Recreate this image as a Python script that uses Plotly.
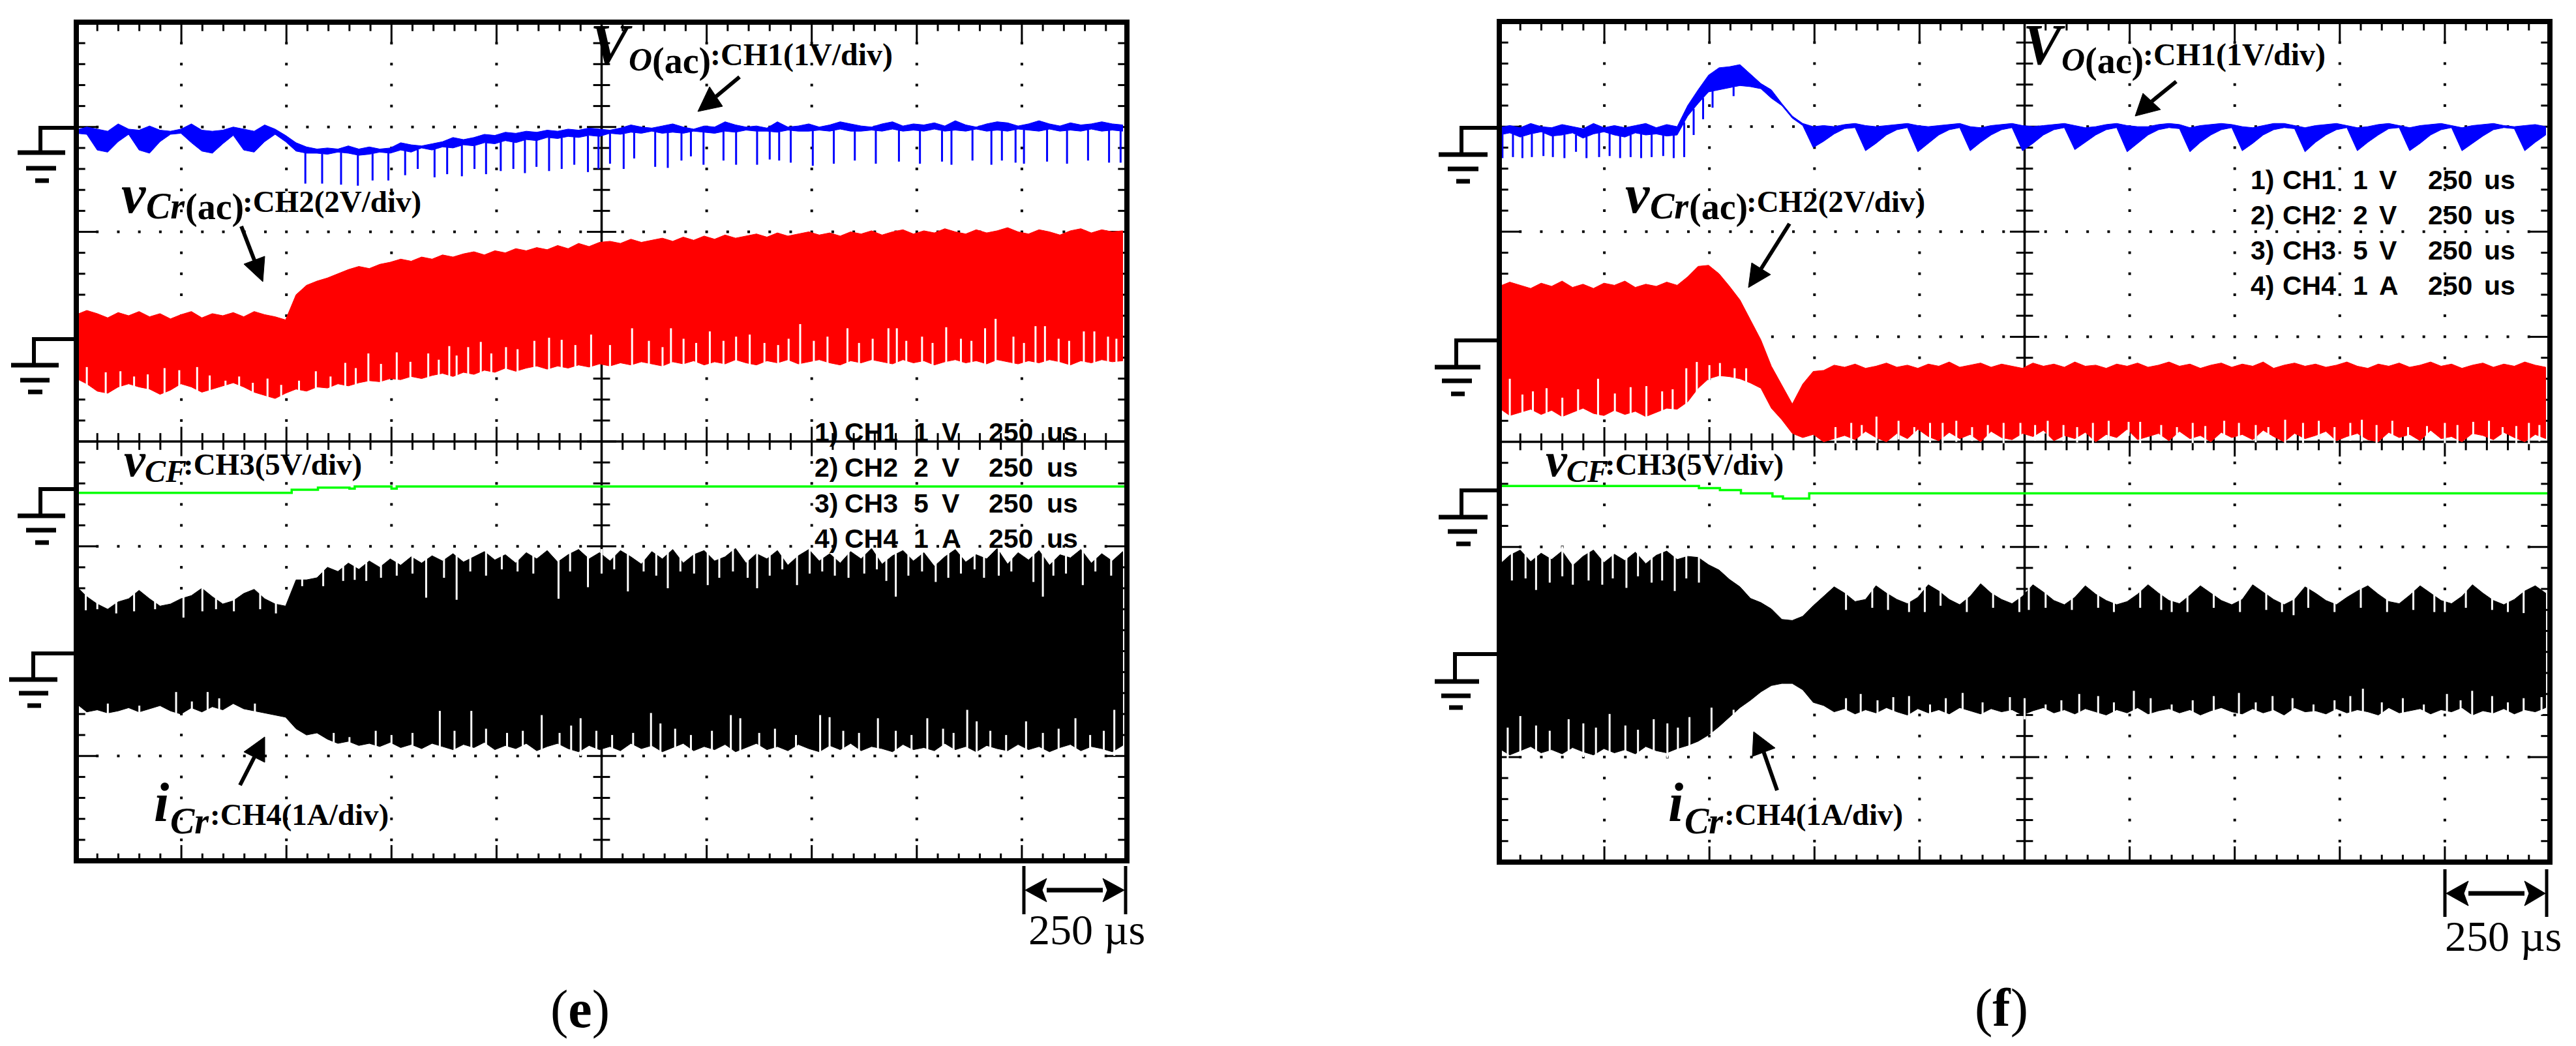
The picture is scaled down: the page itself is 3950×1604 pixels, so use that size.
import numpy as np
import plotly.graph_objects as go

W, H = 3950, 1604
# Values below: hundredths of a screen division, measured up from the bottom of the screen.
# Each edge list is read every 0.1 div across the 10-div screen.
e_blue_top = [697,700,698,696,703,698,697,701,697,696,698,703,697,696,697,700,698,696,702,698,692,
 685,681,679,680,679,682,679,681,679,680,685,683,682,684,686,690,688,690,693,692,695,694,696,695,697,
 696,698,697,699,698,697,
 699,702,700,699,701,703,700,698,701,700,705,702,700,701,699,705,700,701,703,700,702,705,703,701,700,703,705,701,703,702,704,701,706,702,700,703,705,704,701,703,706,703,701,704,702,703,705,703,702]
e_blue_bot = [694,693,678,676,686,693,678,675,686,693,694,685,677,675,684,692,678,676,686,693,686,
 677,675,675,674,676,675,673,674,676,675,678,676,680,678,681,680,683,682,685,684,687,685,688,687,690,
 689,691,690,692,691,694,
 693,695,694,696,694,695,694,696,695,694,696,695,697,696,696,695,697,696,696,697,696,698,696,696,697,696,698,696,697,696,698,696,697,696,698,696,697,696,698,697,696,698,696,697,696,698,696,697,696]
e_blue_spike_x = [2.18,2.34,2.52,2.68,2.82,2.97,3.13,3.25,3.41,3.53,3.67,3.79,3.90,4.04,4.16,4.27,4.38,4.50,4.62,4.74,4.87,4.97,5.08,5.21,5.31,5.51,5.63,5.76,5.85,5.97,6.16,6.28,6.48,6.60,6.69,6.80,7.01,7.21,7.41,7.61,7.83,8.03,8.24,8.33,8.53,8.71,8.81,8.94,9.02,9.24,9.43,9.63,9.83,9.94]
e_blue_spike_y = [646,646,645,644,649,649,654,660,652,655,653,660,655,658,660,656,662,658,660,664,657,660,665,660,670,662,661,668,672,664,668,664,664,669,668,666,663,665,668,665,667,665,667,664,668,664,668,666,665,667,665,668,666,666]

e_red_top = [521,525,522,518,523,520,524,519,522,517,521,524,518,522,520,523,519,524,521,519,516,
 540,549,553,556,560,564,567,565,569,571,574,572,576,574,578,576,579,581,578,582,580,584,582,585,583,587,584,589,586,590,
 591,589,593,590,592,594,591,595,592,596,593,597,594,596,598,595,599,596,598,600,597,599,596,600,598,601,597,600,602,598,601,599,603,600,598,602,599,601,604,600,598,602,600,597,601,603,599,602,600,601]
e_red_bot = [460,455,448,446,452,455,452,450,445,449,455,452,447,450,453,456,452,447,444,441,446,
 450,448,452,451,455,453,456,458,457,460,459,462,460,463,465,462,466,464,468,466,470,467,470,472,469,472,470,473,471,474,
 472,475,473,476,474,472,476,474,477,473,476,474,478,475,473,477,475,478,474,476,478,475,473,477,475,478,476,474,478,475,477,473,476,478,475,477,474,478,476,474,477,475,478,476,473,477,475,478,476,477]
e_red_spike_x = [0.10,0.42,0.84,1.15,1.27,2.28,2.56,2.78,3.05,3.35,3.55,3.73,3.85,4.09,4.36,4.50,4.62,4.90,5.29,5.66,6.03,6.41,6.89,7.34,7.73,7.81,8.28,8.65,8.75,9.13,9.22,9.59,9.69,
 0.28,0.55,0.68,0.98,1.42,1.55,1.68,1.82,1.95,2.12,2.42,2.66,2.9,3.18,3.45,3.62,3.95,4.2,4.75,5.08,5.45,5.58,5.78,5.9,6.16,6.28,6.55,6.68,6.78,7.02,7.15,7.45,7.58,7.9,8.05,8.15,8.42,8.52,8.92,9.02,9.35,9.45,9.82,9.9]
e_red_spike_y = [471,467,470,471,463,467,475,484,485,484,491,490,495,490,496,499,497,502,508,508,505,502,512,508,508,508,509,508,517,510,510,505,505,
 466,462,464,468,458,462,456,460,454,458,462,470,474,476,478,482,484,488,492,492,496,490,498,494,496,500,494,492,498,496,500,494,498,496,500,494,498,496,500,494,498,496,500,498]

e_black_top = [262,252,245,240,247,250,258,250,243,245,250,253,260,252,245,248,255,259,250,245,243,
 268,268,270,280,276,284,278,286,280,288,282,290,284,291,286,293,285,290,295,287,292,284,294,288,296,285,292,297,288,294,
 286,296,290,283,295,288,297,284,292,296,286,290,298,284,293,288,296,282,291,297,286,293,284,295,288,298,283,291,296,286,294,281,290,297,285,292,288,298,283,294,287,296,282,292,289,297,284,293,286,295]
e_black_bot = [150,142,144,141,143,146,142,145,148,143,140,146,142,147,144,150,145,143,141,139,137,
 126,120,122,116,112,114,110,112,109,113,108,111,107,112,109,106,111,108,113,106,110,107,112,105,109,112,107,104,110,106,
 109,105,112,107,110,104,108,112,105,109,106,111,104,108,112,106,109,105,111,107,104,110,106,112,105,109,107,104,111,106,108,105,112,106,109,104,110,107,105,111,106,109,104,108,111,105,109,107,104,110]
e_black_top_spike_x = [0.09,0.38,1.02,1.33,1.75,2.54,2.76,3.33,3.62,4.59,4.87,5.25,5.63,6.01,6.39,6.48,6.86,7.22,7.71,7.80,8.18,8.64,9.11,9.20,9.58,
 0.2,0.55,0.75,1.2,1.5,1.9,2.15,2.35,2.65,2.9,3.05,3.2,3.5,3.75,3.9,4.05,4.2,4.35,4.7,5.0,5.12,5.4,5.52,5.75,5.88,6.12,6.25,6.6,6.72,6.98,7.1,7.35,7.5,7.62,7.92,8.05,8.3,8.42,8.55,8.78,8.9,9.3,9.42,9.7,9.85]
e_black_top_spike_y = [239,236,232,240,240,267,267,251,249,250,261,257,260,263,270,260,263,272,267,252,266,270,266,252,263,
 240,238,240,238,238,236,262,262,268,270,272,274,270,276,272,278,276,274,276,274,278,276,272,276,274,270,276,272,278,274,276,270,274,278,272,276,270,274,278,272,276,272,274,276,272]
e_black_bot_spike_x = [0.95,1.25,1.36,3.46,3.76,4.43,4.71,4.80,5.47,5.56,6.23,6.32,7.08,7.17,7.63,8.10,8.48,8.57,9.04,9.51,9.88,
 0.3,0.6,0.8,1.1,1.5,1.7,2.45,2.6,2.85,3.0,3.2,3.6,3.9,4.1,4.25,4.6,4.95,5.1,5.3,5.7,5.85,6.05,6.5,6.65,6.85,7.3,7.45,7.8,7.95,8.25,8.35,8.7,8.85,9.2,9.35,9.65,9.78]
e_black_bot_spike_y = [161,161,155,143,143,139,129,136,141,131,139,136,139,137,136,136,144,133,133,136,144,
 150,148,146,152,148,150,122,118,124,120,122,124,126,122,124,122,124,120,122,126,120,124,122,126,120,124,122,124,120,126,122,124,120,122,126,120,124]

e_green_x = [0,2.0,2.05,2.3,2.6,2.65,3.0,3.05,10]
e_green_y = [351,351,354,356,355,357,355,357,357]

f_blue_top = [699,701,699,703,700,699,702,700,698,703,699,701,699,701,703,699,702,700,
 720,735,749,756,757,759,750,741,735,722,710,703,700,
 701,700,702,703,701,700,701,702,703,701,700,701,702,703,700,699,701,702,703,701,
 700,701,702,703,701,699,700,702,703,701,700,700,702,703,702,699,701,702,703,702,
 700,699,701,703,703,701,699,701,702,703,701,699,700,702,703,701,699,701,702,703,
 701,699,701,702,703,701,700,701,702,700]
f_blue_bot = [692,694,690,693,695,691,692,694,689,693,695,692,690,694,692,693,691,692,
 710,722,733,735,737,739,738,736,727,720,708,701,680,
 686,693,698,699,677,684,692,697,699,676,684,692,697,699,677,685,692,697,699,677,
 684,692,697,699,678,685,692,697,699,676,684,692,697,699,698,676,685,692,697,699,
 677,684,692,697,699,698,676,685,692,697,699,677,685,692,698,699,677,684,692,697,
 699,677,684,691,697,699,698,677,685,692]
f_blue_spike_x = [0.03,0.13,0.22,0.31,0.42,0.51,0.62,0.73,0.83,0.95,1.05,1.15,1.25,1.35,1.45,1.56,1.66,1.76,1.85,1.94,2.03,2.23]
f_blue_spike_y = [670,671,670,671,672,671,670,676,670,671,672,670,671,670,671,672,670,671,692,707,718,729]

f_red_top = [548,552,549,546,551,548,553,547,550,546,551,549,553,547,550,548,552,549,
 557,567,568,560,548,535,516,497,472,454,436,455,467,468,473,
 471,474,470,472,475,471,473,470,474,472,476,471,473,475,471,474,472,470,475,472,474,471,476,472,473,470,474,472,475,471,473,476,472,474,470,473,475,471,474,472,476,470,473,475,472,474,471,473,476,472,470,474,472,475,471,473,476,472,474,470,473,475,471,474,472,476,473,471]
f_red_bot = [432,425,428,431,426,430,424,428,432,427,425,430,426,429,424,428,432,431,
 438,451,460,463,462,460,456,451,432,421,408,404,407,400,403,
 406,402,410,404,400,408,403,412,405,401,409,403,407,400,410,404,402,408,405,411,401,406,403,409,400,407,404,412,402,405,408,401,410,403,406,400,409,404,407,402,411,405,400,408,403,406,410,401,405,408,402,400,409,404,407,401,411,403,405,400,408,406,402,409,404,400,407,403]
f_red_spike_x = [0.10,0.45,0.94,1.40,1.78,1.88,2.00,2.10,2.24,2.35,3.59,4.22,4.65,4.96,5.37,5.99,6.10,6.72,7.04,7.48,8.21,8.83,9.27,9.68,
 0.22,0.32,0.6,0.75,1.1,1.25,1.55,1.65,3.2,3.35,3.45,3.8,3.95,4.1,4.35,4.5,4.8,5.1,5.22,5.5,5.65,5.8,6.3,6.45,6.6,6.9,7.2,7.32,7.65,7.8,7.95,8.1,8.35,8.5,8.65,9.0,9.12,9.42,9.55,9.8,9.9]
f_red_spike_y = [460,451,460,453,470,476,473,475,470,470,424,418,416,418,416,419,419,415,418,421,421,415,419,415,
 445,448,442,450,446,452,448,450,414,418,416,420,414,418,420,414,418,416,420,414,418,420,416,414,418,420,416,414,418,420,414,418,416,420,414,418,416,420,414,418,416]

f_black_top = [283,292,297,286,294,288,296,282,291,297,285,293,287,295,284,292,296,288,291,290,
 283,278,269,262,251,247,241,231,230,234,244,253,
 262,256,248,250,263,256,250,246,252,264,258,250,245,253,265,256,250,246,253,264,257,249,245,252,263,255,249,245,248,255,264,256,249,246,254,263,256,249,245,250,264,257,250,245,250,262,256,249,245,252,258,263,255,248,246,254,263,256,249,246,253,264,256,249,245,250,258,263,256]
f_black_bot = [108,102,106,110,104,107,103,109,105,102,108,104,107,103,110,106,104,108,111,115,
 121,129,138,147,154,162,168,170,170,164,152,149,
 143,146,141,145,142,147,143,140,146,142,145,141,147,144,141,146,143,145,140,144,147,142,145,141,146,143,140,145,142,147,141,144,146,142,145,140,144,147,143,141,146,142,145,140,147,143,144,141,146,142,145,143,140,147,142,144,146,141,145,143,147,140,144,142,146,141,145,143,147]
f_black_top_spike_x = [0.12,0.35,0.70,1.21,1.45,1.67,3.9,5.04,6.4,7.56,8.9,9.75,
 .25,.48,.6,.85,.98,1.08,1.32,1.55,1.78,1.9,3.3,3.55,3.7,4.05,4.2,4.45,4.7,4.95,5.2,5.45,5.7,5.85,6.1,6.3,6.55,6.8,7.05,7.3,7.45,7.7,7.95,8.2,8.45,8.7,9.0,9.2,9.45,9.6]
f_black_top_spike_y = [268,259,264,261,266,258,238,240,238,235,238,237,
 270,266,272,268,264,270,272,268,270,266,240,242,240,238,244,238,242,238,242,240,242,238,242,240,238,242,238,240,238,242,238,242,238,240,238,242,240,238]
f_black_bot_spike_x = [0.20,0.66,1.05,1.47,1.81,2.02,2.23,3.44,3.75,4.41,4.86,5.52,6.04,7.04,7.36,8.22,9.02,9.26,9.92,
 .08,.35,.48,.8,.92,1.2,1.32,1.6,1.7,3.3,3.6,3.9,4.1,4.25,4.6,5.0,5.2,5.35,5.7,5.85,6.2,6.4,6.6,6.8,7.2,7.55,7.75,7.95,8.1,8.4,8.6,8.8,9.15,9.45,9.6,9.75]
f_black_bot_spike_y = [139,136,141,136,138,147,145,160,157,161,157,160,163,161,158,165,160,163,157,
 128,130,125,132,128,130,126,132,128,156,154,158,150,156,152,156,150,154,158,152,156,150,154,158,152,156,150,154,158,152,156,150,154,158,152,156]

f_green_x = [0,1.9,2.1,2.3,2.6,2.7,2.85,2.95,10]
f_green_y = [358,356,354,351,348,346,346,351,351]

legend_col_1 = ["1)","2)","3)","4)"]
legend_col_2 = ["CH1","CH2","CH3","CH4"]
legend_col_3 = ["1","2","5","1"]
legend_col_4 = ["V","V","V","A"]
legend_col_5 = ["250","250","250","250"]
legend_col_6 = ["us","us","us","us"]

RED, BLUE, BLK, GRN = "#ff0000", "#0000ff", "#000000", "#00ff00"
SERIF = "Liberation Serif"
SANS = "Liberation Sans"
PANELS = {"e": (117, 1728, 34, 1320), "f": (2299, 3910, 33, 1322)}
X_END = 9.96


def px(x):
    return x / W


def py(y):
    return 1 - y / H


def div(a):
    return np.asarray(a, float) / 100


def segments(pairs):
    xs, ys = [], []
    for (x0, y0, x1, y1) in pairs:
        xs += [x0, x1, None]
        ys += [y0, y1, None]
    return xs, ys


fig = go.Figure()


def graticule(ax, ay):
    thin = []
    heavy = [(5, 0, 5, 8), (0, 4, 10, 4)]
    for i in range(0, 51):
        x = i / 5
        maj = i % 5 == 0
        if 0 < i < 50:
            thin.append((x, 8, x, 8 - (0.19 if maj else 0.085)))
            thin.append((x, 0, x, 0.15 if maj else 0.07))
            thin.append((x, 4 - (0.14 if maj else 0.08), x, 4 + (0.14 if maj else 0.08)))
    for j in range(0, 41):
        y = j / 5
        maj = j % 5 == 0
        if 0 < j < 40:
            L = 0.21 if maj else 0.085
            thin.append((0, y, L, y))
            thin.append((10, y, 10 - L, y))
            thin.append((5 - (0.14 if maj else 0.08), y, 5 + (0.14 if maj else 0.08), y))
    xs, ys = segments(thin)
    fig.add_trace(go.Scatter(x=xs, y=ys, mode="lines", line=dict(color=BLK, width=3), xaxis=ax, yaxis=ay, hoverinfo="skip"))
    xs, ys = segments(heavy)
    fig.add_trace(go.Scatter(x=xs, y=ys, mode="lines", line=dict(color=BLK, width=3.5), xaxis=ax, yaxis=ay, hoverinfo="skip"))
    dx, dy = [], []
    for c in (1, 2, 3, 4, 6, 7, 8, 9):
        for j in range(1, 40):
            if j % 5:
                dx.append(c)
                dy.append(j / 5)
    for r in (1, 2, 3, 5, 6, 7):
        for i in range(1, 50):
            dx.append(i / 5)
            dy.append(r)
    fig.add_trace(go.Scatter(x=dx, y=dy, mode="markers", marker=dict(symbol="square", size=4, color=BLK, line=dict(width=0)), xaxis=ax, yaxis=ay, hoverinfo="skip"))


def band(ax, ay, top, bot, color):
    xt = np.linspace(0, X_END, len(top))
    xb = np.linspace(0, X_END, len(bot))
    x = list(xt) + list(xb[::-1])
    y = list(div(top)) + list(div(bot)[::-1])
    fig.add_trace(go.Scatter(x=x, y=y, mode="lines", fill="toself", fillcolor=color,
                             line=dict(color=color, width=1), xaxis=ax, yaxis=ay, hoverinfo="skip"))


def spikes(ax, ay, edge, sx, sy, color, up, width=3):
    xe = np.linspace(0, X_END, len(edge))
    base = np.interp(sx, xe, div(edge))
    pad = 0.05 if up else -0.05
    if color != "#ffffff":
        pad = 0
    xs, ys = segments([(a, t, a, b + pad) for a, t, b in zip(sx, div(sy), base)])
    fig.add_trace(go.Scatter(x=xs, y=ys, mode="lines", line=dict(color=color, width=width), xaxis=ax, yaxis=ay, hoverinfo="skip"))


def green(ax, ay, gx, gy):
    fig.add_trace(go.Scatter(x=gx, y=div(gy), mode="lines", line=dict(color=GRN, width=3.5, shape="hv"), xaxis=ax, yaxis=ay, hoverinfo="skip"))


for key, ax, ay in (("e", "x", "y"), ("f", "x2", "y2")):
    graticule(ax, ay)

# panel (e)
band("x", "y", e_blue_top, e_blue_bot, BLUE)
spikes("x", "y", e_blue_bot, e_blue_spike_x, e_blue_spike_y, BLUE, False)
band("x", "y", e_red_top, e_red_bot, RED)
spikes("x", "y", e_red_bot, e_red_spike_x, e_red_spike_y, "#ffffff", False)
green("x", "y", e_green_x, e_green_y)
band("x", "y", e_black_top, e_black_bot, BLK)
spikes("x", "y", e_black_top, e_black_top_spike_x, e_black_top_spike_y, "#ffffff", True)
spikes("x", "y", e_black_bot, e_black_bot_spike_x, e_black_bot_spike_y, "#ffffff", False)

# panel (f)
band("x2", "y2", f_blue_top, f_blue_bot, BLUE)
spikes("x2", "y2", f_blue_bot, f_blue_spike_x, f_blue_spike_y, BLUE, False)
band("x2", "y2", f_red_top, f_red_bot, RED)
spikes("x2", "y2", f_red_bot, f_red_spike_x, f_red_spike_y, "#ffffff", False)
green("x2", "y2", f_green_x, f_green_y)
band("x2", "y2", f_black_top, f_black_bot, BLK)
spikes("x2", "y2", f_black_top, f_black_top_spike_x, f_black_top_spike_y, "#ffffff", True)
spikes("x2", "y2", f_black_bot, f_black_bot_spike_x, f_black_bot_spike_y, "#ffffff", False)

shapes = []
ann = []


def rule(x0, y0, x1, y1, w):
    shapes.append(dict(type="line", xref="paper", yref="paper", x0=px(x0), y0=py(y0), x1=px(x1), y1=py(y1), line=dict(color=BLK, width=w)))


def poly(points):
    path = "M " + " L ".join(f"{px(a):.5f} {py(b):.5f}" for a, b in points) + " Z"
    shapes.append(dict(type="path", xref="paper", yref="paper", path=path, fillcolor=BLK, line=dict(color=BLK, width=1)))


def arrow(tail, tip, b1, b2):
    mid = ((b1[0] + b2[0]) / 2, (b1[1] + b2[1]) / 2)
    rule(tail[0], tail[1], mid[0], mid[1], 6)
    poly([tip, b1, mid, b2])


def ground(xs, y, xe, bars):
    rule(xs, y, xe, y, 6)
    rule(xs, y - 3, xs, bars[0][2], 6)
    for x0, x1, yy in bars:
        rule(x0, yy, x1, yy, 7)


def text(x, y, s, size, family=SERIF, anchor="left"):
    ann.append(dict(xref="paper", yref="paper", x=px(x), y=py(y), text=s, showarrow=False, xanchor=anchor, yanchor="middle",
                    font=dict(family=family, size=size, color=BLK), borderpad=0, borderwidth=0))


# frames
for k, (x0, x1, t, b) in PANELS.items():
    shapes.append(dict(type="rect", xref="paper", yref="paper", x0=px(x0), x1=px(x1), y0=py(b), y1=py(t),
                       line=dict(color=BLK, width=8), layer="above"))

# ground markers
ground(62, 196, 117, [(27, 100, 234), (40, 86, 258), (54, 75, 277)])
ground(52, 520, 117, [(17, 90, 560), (31, 76, 583), (43, 65, 601)])
ground(62, 750, 117, [(27, 100, 791), (40, 86, 813), (54, 75, 832)])
ground(51, 1002, 117, [(14, 88, 1042), (29, 74, 1063), (42, 63, 1082)])
ground(2241, 196, 2299, [(2206, 2281, 237), (2220, 2267, 259), (2233, 2254, 278)])
ground(2233, 522, 2299, [(2200, 2270, 563), (2211, 2257, 584), (2225, 2246, 604)])
ground(2241, 752, 2299, [(2206, 2281, 793), (2220, 2265, 815), (2233, 2255, 834)])
ground(2231, 1003, 2299, [(2200, 2268, 1045), (2210, 2255, 1067), (2222, 2243, 1085)])

# callout arrows
arrow((1134, 118), (1070, 171), (1088, 133), (1108, 163))
arrow((370, 347), (403, 432), (374, 405), (406, 393))
arrow((368, 1204), (406, 1130), (374, 1153), (406, 1169))
arrow((3337, 125), (3274, 178), (3286, 143), (3313, 168))
arrow((2744, 343), (2681, 441), (2686, 403), (2715, 421))
arrow((2725, 1212), (2689, 1122), (2687, 1160), (2722, 1147))

# scale bars
for xl, xr, ytop, ybot, ya, bl, br, s0, s1 in ((1570, 1726, 1328, 1402, 1365, 1605, 1691, 1347, 1383),
                                               (3749, 3905, 1333, 1406, 1370, 3785, 3871, 1351, 1389)):
    rule(xl, ytop, xl, ybot, 5)
    rule(xr, ytop, xr, ybot, 5)
    rule(bl, ya, br, ya, 7)
    poly([(xl + 2, ya), (bl, s0), (bl - 7, ya), (bl, s1)])
    poly([(xr - 2, ya), (br, s0), (br + 7, ya), (br, s1)])
text(1577, 1425, "250 µs", 66)
text(3749, 1435, "250 µs", 66)
text(889, 1547, "(<b>e</b>)", 82, anchor="center")
text(3069, 1545, "(<b>f</b>)", 82, anchor="center")

# channel labels
BI = lambda s: f"<b><i>{s}</i></b>"
B = lambda s: f"<b>{s}</b>"
for dx in (0, 2197):
    text(905 + dx, 68, BI("V"), 88)
    text(964 + dx, 91, BI("O"), 50)
    text(1000 + dx, 94, B("(ac)"), 56)
    text(1089 + dx, 84, B(":CH1(1V/div)"), 48)
for dx in (0, 2306):
    text(186 + dx, 297, BI("v"), 84)
    text(224 + dx, 316, BI("Cr"), 56)
    text(284 + dx, 317, B("(ac)"), 56)
    text(372 + dx, 309, B(":CH2(2V/div)"), 47)
for dx in (0, 2180):
    text(190 + dx, 705, BI("v"), 74)
    text(222 + dx, 722, BI("CF"), 48)
    text(281 + dx, 712, B(":CH3(5V/div)"), 47)
for dx in (0, 2322):
    text(236 + dx, 1230, BI("i"), 84)
    text(261 + dx, 1259, BI("Cr"), 56)
    text(322 + dx, 1249, B(":CH4(1A/div)"), 47)

# oscilloscope read-out
cols = (legend_col_1, legend_col_2, legend_col_3, legend_col_4, legend_col_5, legend_col_6)
for xs_, rows in (((1249, 1295, 1401, 1444, 1516, 1605), (663, 717, 772, 826)),
                  ((3451, 3500, 3608, 3648, 3723, 3809), (276, 330, 384, 438))):
    for c, xc in zip(cols, xs_):
        for s, yr in zip(c, rows):
            text(xc, yr, B(s), 41, family=SANS)


def dom(a, b, n):
    return [a / n, b / n]


fig.update_layout(
    width=W, height=H, margin=dict(l=0, r=0, t=0, b=0), showlegend=False,
    paper_bgcolor="white", plot_bgcolor="white", shapes=shapes, annotations=ann,
    xaxis=dict(domain=dom(117, 1728, W), range=[0, 10], visible=False, fixedrange=True),
    yaxis=dict(domain=[1 - 1320 / H, 1 - 34 / H], range=[0, 8], visible=False, fixedrange=True),
    xaxis2=dict(domain=dom(2299, 3910, W), range=[0, 10], visible=False, fixedrange=True, anchor="y2"),
    yaxis2=dict(domain=[1 - 1322 / H, 1 - 33 / H], range=[0, 8], visible=False, fixedrange=True, anchor="x2"),
)
fig.write_html("out.html", config=dict(displayModeBar=False), post_script="document.body.style.margin='0';document.body.style.overflow='hidden';")
